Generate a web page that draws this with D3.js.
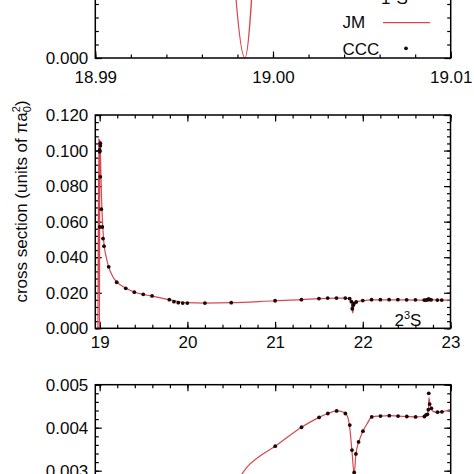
<!DOCTYPE html>
<html>
<head>
<meta charset="utf-8">
<script src="https://cdn.jsdelivr.net/npm/d3@7"></script>
<style>
  html, body { margin: 0; padding: 0; background: #fff; }
  svg { display: block; font-family: "Liberation Sans", Arial, sans-serif; }
</style>
</head>
<body>
<svg id="chart" width="474" height="474"></svg>
<script>
// ---- top panel (near threshold, 18.99 - 19.01) ----
const topJmX = [ 18.9975, 18.99842, 18.9992 ];
const topJmY = [ 0.12, 0.0, 0.146 ];
const topXTicks = [ 18.99, 19.00, 19.01 ];
const topYTicks = [ 0.0 ];

// ---- middle panel (2 3S) ----
const midJmX = [ 18.98, 18.99, 18.9984, 19.0, 19.005, 19.01, 19.02, 19.03, 19.04, 19.05, 19.07, 19.1, 19.15,
  19.2, 19.3, 19.4, 19.5, 19.6, 19.8, 20.0, 20.2, 20.5, 21.0, 21.3, 21.5, 21.7, 21.8, 21.85, 21.87,
  21.885, 21.9, 21.93, 22.0, 22.1, 22.5, 22.7, 22.75, 22.8, 23.0 ];
const midJmY = [ 0.0, 0.107, 0.0, 0.106, 0.104, 0.095, 0.075, 0.062, 0.053, 0.047, 0.041, 0.035, 0.029,
  0.0258, 0.0225, 0.0203, 0.019, 0.0181, 0.016, 0.0144, 0.0142, 0.0144, 0.0155, 0.0161, 0.0167, 0.017, 0.017, 0.0166, 0.015,
  0.0086, 0.0135, 0.0148, 0.0155, 0.016, 0.016, 0.0158, 0.0164, 0.016, 0.0159 ];
const midCccX = [ 19.007, 19.007, 19.0, 19.0, 19.007, 19.018, 19.0, 19.03, 19.038, 19.049, 19.103, 19.194,
  19.297, 19.395, 19.497, 19.597, 19.794, 19.847, 19.896, 19.947, 19.999, 20.2, 20.5, 21.0, 21.3, 21.5,
  21.6, 21.7, 21.8, 21.85, 21.87, 21.88, 21.89, 21.9, 21.925, 22.0, 22.1, 22.2, 22.3, 22.4, 22.5, 22.6,
  22.7, 22.72, 22.735, 22.745, 22.75, 22.76, 22.78, 22.85, 22.9 ];
const midCccY = [ 0.1041, 0.1027, 0.1003, 0.0993, 0.0852, 0.067, 0.057, 0.057, 0.0505, 0.0462, 0.0346, 0.0259,
  0.0225, 0.0203, 0.0191, 0.0182, 0.0161, 0.015, 0.0144, 0.0142, 0.0142, 0.0142, 0.0144, 0.0155, 0.0161, 0.0167,
  0.017, 0.017, 0.017, 0.0167, 0.015, 0.011, 0.013, 0.014, 0.0148, 0.0156, 0.0161, 0.0161, 0.0161, 0.0161, 0.016, 0.016,
  0.0159, 0.0159, 0.016, 0.0163, 0.0164, 0.0162, 0.016, 0.0159, 0.0159 ];
const midXTicks = [ 19, 20, 21, 22, 23 ];
const midYTicks = [ 0.0, 0.02, 0.04, 0.06, 0.08, 0.10, 0.12 ];

// ---- bottom panel ----
const botJmX = [ 20.55, 20.62, 20.676, 20.8, 21.0, 21.3, 21.5, 21.6, 21.7, 21.78, 21.82, 21.846, 21.874, 21.9,
  21.92, 21.953, 22.0, 22.05, 22.1, 22.2, 22.3, 22.4, 22.5, 22.6, 22.7, 22.73, 22.745, 22.752, 22.76, 22.77,
  22.8, 22.85, 22.9, 23.0 ];
const botJmY = [ 0.0027, 0.00292, 0.00308, 0.0033, 0.00357, 0.00401, 0.00424, 0.00433, 0.00439, 0.00436, 0.00428, 0.00406, 0.00348, 0.00292,
  0.00339, 0.00367, 0.00392, 0.0041, 0.00425, 0.00427, 0.00428, 0.00427, 0.00426, 0.00425, 0.00426, 0.0043, 0.0044, 0.0047, 0.0046, 0.0045,
  0.00438, 0.00436, 0.00437, 0.00443 ];
const botCccX = [ 21.0, 21.3, 21.5, 21.6, 21.7, 21.8, 21.85, 21.875, 21.9, 21.92, 21.95, 22.0, 22.1, 22.2, 22.3,
  22.4, 22.5, 22.6, 22.7, 22.72, 22.735, 22.745, 22.75, 22.76, 22.78, 22.85, 22.9 ];
const botCccY = [ 0.00357, 0.00401, 0.00424, 0.00433, 0.00439, 0.00433, 0.00406, 0.00348, 0.00296, 0.00339, 0.00367, 0.00392, 0.00425, 0.00427, 0.00428,
  0.00427, 0.00426, 0.00425, 0.00426, 0.0043, 0.00431, 0.00442, 0.0048, 0.00455, 0.00445, 0.00436, 0.00437 ];
const botXTicks = [ 19, 20, 21, 22, 23 ];
const botYTicks = [ 0.003, 0.004, 0.005 ];

const RED = "#d9474f";
const DOT = "#1c0808";
const INK = "#0a0a0a";
const FONT = 17;

const svg = d3.select( "#chart" );
svg.append( "rect" ).attr( "width", 474 ).attr( "height", 474 ).attr( "fill", "#fff" );

const zip = ( xs, ys ) => xs.map( ( x, i ) => ( { x, y: ys[i] } ) );

function minorTicks( domain, step ) {
  const out = [];
  const start = Math.ceil( domain[0] / step - 1e-6 );
  for ( let k = start; k * step <= domain[1] + 1e-9; k++ ) out.push( +( k * step ).toFixed( 6 ) );
  return out;
}

function panel( cfg ) {
  const x = d3.scaleLinear().domain( cfg.xDomain ).range( [ cfg.left, cfg.right ] );
  const y = d3.scaleLinear().domain( cfg.yDomain ).range( [ cfg.bottom, cfg.top ] );
  const g = svg.append( "g" );

  const clipId = "clip" + cfg.name;
  g.append( "clipPath" ).attr( "id", clipId )
    .append( "rect" )
    .attr( "x", cfg.left ).attr( "y", cfg.top )
    .attr( "width", cfg.right - cfg.left ).attr( "height", cfg.bottom - cfg.top );

  const xMinor = minorTicks( cfg.xDomain, cfg.xMinor );
  const yMinor = minorTicks( cfg.yDomain, cfg.yMinor );

  const addAxis = ( axis, tx, ty, labelled, fmt, pad ) => {
    const a = g.append( "g" )
      .attr( "transform", `translate(${tx},${ty})` )
      .call( axis.tickPadding( pad || 0 ).tickFormat( labelled ? fmt : "" ) );
    a.select( ".domain" ).remove();
    a.attr( "font-size", FONT ).attr( "font-family", "\"Liberation Sans\", Arial, sans-serif" );
    a.selectAll( "line" ).attr( "stroke", "#000" ).attr( "stroke-width", 1.2 );
    a.selectAll( "text" ).attr( "font-size", FONT ).attr( "fill", INK );
    return a;
  };

  // minor ticks, all four sides, pointing inward
  addAxis( d3.axisBottom( x ).tickValues( xMinor ).tickSizeInner( -3.5 ).tickSizeOuter( 0 ), 0, cfg.bottom, false );
  addAxis( d3.axisTop( x ).tickValues( xMinor ).tickSizeInner( -3.5 ).tickSizeOuter( 0 ), 0, cfg.top, false );
  addAxis( d3.axisLeft( y ).tickValues( yMinor ).tickSizeInner( -3.5 ).tickSizeOuter( 0 ), cfg.left, 0, false );
  addAxis( d3.axisRight( y ).tickValues( yMinor ).tickSizeInner( -3.5 ).tickSizeOuter( 0 ), cfg.right, 0, false );
  // major ticks, labelled on left and bottom
  addAxis( d3.axisBottom( x ).tickValues( cfg.xTicks ).tickSizeInner( -6.5 ).tickSizeOuter( 0 ), 0, cfg.bottom, true, cfg.xFmt, cfg.xPad );
  addAxis( d3.axisTop( x ).tickValues( cfg.xTicks ).tickSizeInner( -6.5 ).tickSizeOuter( 0 ), 0, cfg.top, false );
  addAxis( d3.axisLeft( y ).tickValues( cfg.yTicks ).tickSizeInner( -6.5 ).tickSizeOuter( 0 ), cfg.left, 0, true, d3.format( ".3f" ), 7 );
  addAxis( d3.axisRight( y ).tickValues( cfg.yTicks ).tickSizeInner( -6.5 ).tickSizeOuter( 0 ), cfg.right, 0, false );

  const plot = g.append( "g" ).attr( "clip-path", `url(#${clipId})` );
  const line = d3.line().x( d => x( d.x ) ).y( d => y( d.y ) ).curve( d3.curveMonotoneX );
  plot.append( "path" )
    .attr( "d", line( zip( cfg.jmX, cfg.jmY ) ) )
    .attr( "fill", "none" ).attr( "stroke", RED ).attr( "stroke-width", 1.2 );
  if ( cfg.cccX ) {
    plot.selectAll( "circle" ).data( zip( cfg.cccX, cfg.cccY ) ).enter()
      .append( "circle" )
      .attr( "cx", d => x( d.x ) ).attr( "cy", d => y( d.y ) )
      .attr( "r", 1.9 ).attr( "fill", DOT );
  }

  g.append( "rect" )
    .attr( "x", cfg.left ).attr( "y", cfg.top )
    .attr( "width", cfg.right - cfg.left ).attr( "height", cfg.bottom - cfg.top )
    .attr( "fill", "none" ).attr( "stroke", "#000" ).attr( "stroke-width", 1.5 );
  return g;
}

const topG = panel( {
  name: "top", xDomain: [ 18.99, 19.01 ], yDomain: [ 0, 0.1 ],
  left: 95.3, right: 450.7, top: -77, bottom: 58,
  xTicks: topXTicks, yTicks: topYTicks, xMinor: 0.002, yMinor: 0.01,
  xFmt: d3.format( ".2f" ), xPad: 12.5,
  jmX: topJmX, jmY: topJmY,
} );

const midG = panel( {
  name: "mid", xDomain: [ 18.95, 23 ], yDomain: [ 0, 0.12 ],
  left: 95.3, right: 450.5, top: 115, bottom: 328.3,
  xTicks: midXTicks, yTicks: midYTicks, xMinor: 0.2, yMinor: 0.004,
  xFmt: d3.format( "d" ), xPad: 7.5,
  jmX: midJmX, jmY: midJmY, cccX: midCccX, cccY: midCccY,
} );

const botG = panel( {
  name: "bot", xDomain: [ 18.95, 23 ], yDomain: [ 0.001, 0.005 ],
  left: 95.3, right: 450.7, top: 384.7, bottom: 556.7,
  xTicks: botXTicks, yTicks: botYTicks, xMinor: 0.2, yMinor: 0.0002,
  xFmt: d3.format( "d" ), xPad: 7.5,
  jmX: botJmX, jmY: botJmY, cccX: botCccX, cccY: botCccY,
} );

// state labels
const stateLabel = ( g, x, y, a, b ) => {
  const t = g.append( "text" ).attr( "x", x ).attr( "y", y ).attr( "font-size", FONT ).attr( "fill", INK );
  t.append( "tspan" ).text( a );
  t.append( "tspan" ).attr( "font-size", 11 ).attr( "dy", -7 ).text( b );
  t.append( "tspan" ).attr( "dy", 7 ).text( "S" );
};
stateLabel( topG, 381, 4, "1", "1" );
stateLabel( midG, 394.5, 325.5, "2", "3" );

// legend (top panel)
topG.append( "text" ).attr( "x", 342.5 ).attr( "y", 28.3 ).attr( "font-size", FONT ).attr( "fill", INK ).text( "JM" );
topG.append( "line" ).attr( "x1", 383 ).attr( "x2", 430 ).attr( "y1", 22.7 ).attr( "y2", 22.7 )
  .attr( "stroke", RED ).attr( "stroke-width", 1.2 );
topG.append( "text" ).attr( "x", 342.5 ).attr( "y", 55 ).attr( "font-size", FONT ).attr( "fill", INK ).text( "CCC" );
topG.append( "circle" ).attr( "cx", 406 ).attr( "cy", 48.3 ).attr( "r", 1.9 ).attr( "fill", DOT );

// y axis title
const yt = svg.append( "text" )
  .attr( "transform", "translate(27,201.5) rotate(-90)" )
  .attr( "text-anchor", "middle" )
  .attr( "font-size", FONT ).attr( "fill", INK );
yt.append( "tspan" ).text( "cross section (units of πa" );
yt.append( "tspan" ).attr( "font-size", 11 ).attr( "dy", 4 ).text( "0" );
yt.append( "tspan" ).attr( "font-size", 11 ).attr( "dx", -6 ).attr( "dy", -11 ).text( "2" );
yt.append( "tspan" ).attr( "dy", 7 ).text( ")" );
</script>
</body>
</html>
